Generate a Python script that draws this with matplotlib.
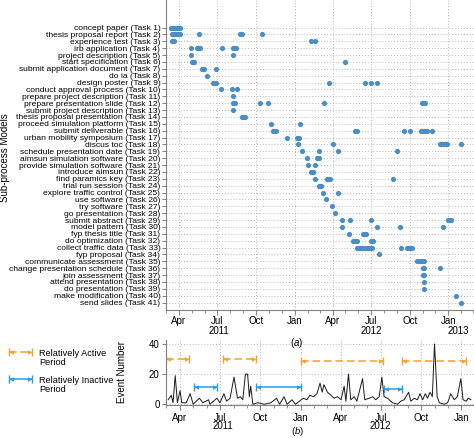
import numpy as np
import pandas as pd
import matplotlib
matplotlib.use('Agg')
import matplotlib.pyplot as plt
import matplotlib.dates as mdates
from matplotlib.path import Path

plt.rcParams['font.family'] = ['Liberation Sans', 'DejaVu Sans']
plt.rcParams['mathtext.fontset'] = 'custom'
plt.rcParams['mathtext.rm'] = 'Liberation Sans'
plt.rcParams['mathtext.it'] = 'Liberation Sans:italic'

# ---- data -------------------------------------------------------------
task_names = [
    'concept paper', 'thesis proposal report', 'experience test', 'irb application',
    'project description', 'start specification', 'submit application document', 'do ia',
    'design poster', 'conduct approval process', 'prepare project description',
    'prepare presentation slide', 'submit project description', 'thesis proposal presentation',
    'proceed simulation platform', 'submit deliverable', 'urban mobility symposium',
    'discus toc', 'schedule presentation date', 'aimsun simulation software',
    'provide simulation software', 'introduce aimsun', 'find paramics key', 'trial run session',
    'explore traffic control', 'use software', 'try software', 'go presentation',
    'submit abstract', 'model pattern', 'fyp thesis title', 'do optimization',
    'collect traffic data', 'fyp proposal', 'communicate assessment',
    'change presentation schedule', 'join assessment', 'attend presentation',
    'do presentation', 'make modification', 'send slides',
]

task_dates = [
    ['2011-03-14', '2011-03-18', '2011-03-22', '2011-03-26', '2011-03-30', '2011-04-03'],
    ['2011-03-15', '2011-03-19', '2011-03-23', '2011-03-27', '2011-03-31', '2011-04-03',
     '2011-05-18', '2011-08-24', '2011-08-27', '2011-08-30', '2011-10-16'],
    ['2011-03-15', '2011-03-18', '2011-03-21', '2012-02-08', '2012-02-19'],
    ['2011-04-29', '2011-05-14', '2011-05-17', '2011-05-20', '2011-07-13', '2011-08-08',
     '2011-08-11', '2011-08-14'],
    ['2011-04-29', '2011-08-07'],
    ['2011-05-01', '2011-05-04', '2011-05-07', '2012-05-01'],
    ['2011-05-25', '2011-05-28', '2011-05-31', '2011-06-27'],
    ['2011-06-06'],
    ['2011-06-21', '2011-06-24', '2011-06-27', '2012-03-22', '2012-06-17', '2012-07-01',
     '2012-07-14'],
    ['2011-07-11', '2011-08-04', '2011-08-16'],
    ['2011-08-07'],
    ['2011-08-07', '2011-08-10', '2011-08-13', '2011-10-10', '2011-10-29', '2012-03-11',
     '2012-10-30', '2012-11-02', '2012-11-06'],
    ['2011-08-07'],
    ['2011-08-28', '2011-08-31', '2011-09-04'],
    ['2011-11-07', '2012-01-14'],
    ['2011-11-10', '2011-11-14', '2011-11-17', '2012-05-23', '2012-05-26', '2012-05-29',
     '2012-09-17', '2012-10-01', '2012-10-29', '2012-11-01', '2012-11-04', '2012-11-07',
     '2012-11-10', '2012-11-22'],
    ['2011-12-15', '2012-01-06', '2012-01-09', '2012-01-12'],
    ['2012-01-10', '2012-04-01', '2012-12-11', '2012-12-14', '2012-12-17', '2012-12-20',
     '2012-12-23', '2012-12-26', '2012-12-29', '2013-02-01'],
    ['2012-01-19', '2012-02-29', '2012-04-13', '2012-08-31'],
    ['2012-01-31', '2012-02-23', '2012-02-26', '2012-02-28'],
    ['2012-02-03', '2012-02-18'],
    ['2012-02-10', '2012-02-13', '2012-02-15'],
    ['2012-02-19', '2012-03-18', '2012-03-21', '2012-03-25', '2012-08-23'],
    ['2012-02-29', '2012-03-02', '2012-03-05'],
    ['2012-03-08', '2012-04-14'],
    ['2012-03-16'],
    ['2012-03-29'],
    ['2012-04-06'],
    ['2012-04-22', '2012-05-11', '2012-07-02', '2013-01-01', '2013-01-04', '2013-01-07'],
    ['2012-04-22', '2012-07-15', '2012-09-07', '2012-12-19'],
    ['2012-05-09', '2012-06-13', '2012-06-16', '2012-06-20'],
    ['2012-05-19', '2012-05-24', '2012-05-29', '2012-07-01', '2012-07-05'],
    ['2012-05-29', '2012-06-03', '2012-06-08', '2012-06-13', '2012-06-18', '2012-06-23',
     '2012-06-28', '2012-07-03', '2012-09-11', '2012-09-25', '2012-09-29', '2012-10-03',
     '2012-10-07'],
    ['2012-07-21'],
    ['2012-10-19', '2012-10-23', '2012-10-27', '2012-10-31', '2012-11-03'],
    ['2012-11-02', '2012-11-05', '2012-12-11'],
    ['2012-11-01', '2012-11-04'],
    ['2012-11-03'],
    ['2012-11-04'],
    ['2013-01-19'],
    ['2013-01-30'],
]

event_dates = [
    '2011-03-05', '2011-03-12', '2011-03-16', '2011-03-21', '2011-03-26', '2011-04-01',
    '2011-04-05', '2011-04-15', '2011-04-24', '2011-05-01', '2011-05-15', '2011-05-23',
    '2011-06-05', '2011-06-08', '2011-06-24', '2011-07-01', '2011-07-10', '2011-07-16',
    '2011-07-24', '2011-08-02', '2011-08-10', '2011-08-16', '2011-08-22', '2011-08-28',
    '2011-09-02', '2011-09-06', '2011-09-09', '2011-09-14', '2011-09-25', '2011-10-10',
    '2011-10-25', '2011-11-07', '2011-11-14', '2011-11-24', '2011-12-01', '2011-12-12',
    '2011-12-20', '2012-01-07', '2012-01-15', '2012-01-22', '2012-01-30', '2012-02-07',
    '2012-02-14', '2012-02-19', '2012-02-23', '2012-03-02', '2012-03-10', '2012-03-17',
    '2012-03-25', '2012-04-02', '2012-04-09', '2012-04-13', '2012-04-19', '2012-04-24',
    '2012-05-02', '2012-05-08', '2012-05-21', '2012-05-26', '2012-06-05', '2012-06-13',
    '2012-06-20', '2012-06-28', '2012-07-04', '2012-07-09', '2012-07-17', '2012-07-28',
    '2012-08-09', '2012-08-16', '2012-08-24', '2012-09-03', '2012-09-08', '2012-09-16',
    '2012-09-23', '2012-09-29', '2012-10-05', '2012-10-11', '2012-10-16', '2012-10-22',
    '2012-10-27', '2012-11-01', '2012-11-07', '2012-11-12', '2012-11-23', '2012-12-01',
    '2012-12-08', '2012-12-16', '2012-12-23', '2012-12-31', '2013-01-05', '2013-01-12',
    '2013-01-17', '2013-01-23',
]
event_counts = [
    3, 6, 1, 19, 1, 9,
    1, 1, 7, 0, 4, 1,
    3, 0, 4, 1, 7, 2,
    4, 18, 4, 5, 3, 20,
    20, 5, 12, 0, 1, 0,
    1, 4, 0, 5, 0, 3,
    0, 4, 3, 6, 5, 7,
    14, 8, 13, 8, 6, 4,
    5, 3, 12, 2, 20, 3,
    5, 2, 17, 3, 4, 5,
    3, 5, 18, 5, 4, 1,
    0, 2, 3, 8, 2, 4,
    3, 7, 3, 7, 4, 8,
    5, 40, 5, 1, 0, 1,
    7, 3, 5, 17, 3, 2,
    4, 3,
]

period_kind = ['active', 'inactive', 'active', 'inactive', 'active', 'inactive', 'active']
period_start = ['2011-03-01', '2011-05-03', '2011-07-07', '2011-09-20', '2012-01-02',
                '2012-07-10', '2012-08-19']
period_end = ['2011-04-21', '2011-06-24', '2011-09-20', '2012-01-02', '2012-07-06',
              '2012-08-20', '2013-01-12']
period_level = [30, 11.5, 30, 11.5, 28.5, 10, 28.5]

# ---- style ------------------------------------------------------------
DOT_BLUE = '#4a8ec6'
ACTIVE = '#f5a12a'
INACTIVE = '#2a9de8'
SPINE = '#808080'
GRID = dict(color='#b8b8b8', linestyle=(0, (1, 2)), linewidth=0.7)

W, H = 474, 438
fig = plt.figure(figsize=(W / 100, H / 100), dpi=100)

left_tip = Path([(0, 0), (1, 0.5), (1, -0.5), (0, 0)])
right_tip = Path([(0, 0), (-1, 0.5), (-1, -0.5), (0, 0)])


def draw_period(ax, start, end, y, color, dashed):
    ls = (0, (5, 2.5)) if dashed else '-'
    ax.plot([start, end], [y, y], color=color, lw=1.1, linestyle=ls, solid_capstyle='butt')
    ax.plot([start, end], [y, y], linestyle='none', marker='|', markersize=5.5,
            markeredgewidth=1.0, color=color)
    ax.plot([start], [y], linestyle='none', marker=left_tip, markersize=6.5, color=color,
            markeredgewidth=0)
    ax.plot([end], [y], linestyle='none', marker=right_tip, markersize=6.5, color=color,
            markeredgewidth=0)


def style_time_axis(ax, pad):
    ax.xaxis.set_major_locator(mdates.MonthLocator(bymonth=[1, 4, 7, 10]))
    ax.xaxis.set_minor_locator(mdates.MonthLocator())
    ax.xaxis.set_major_formatter(mdates.DateFormatter('%b'))
    ax.tick_params(axis='x', which='major', length=3.5, width=0.7, color=SPINE, pad=pad,
                   labelsize=7)
    ax.tick_params(axis='x', which='minor', length=2, width=0.6, color=SPINE)
    for s in ['top', 'right']:
        ax.spines[s].set_visible(False)
    for s in ['left', 'bottom']:
        ax.spines[s].set_color(SPINE)
        ax.spines[s].set_linewidth(0.8)


# ---- (a) task scatter -------------------------------------------------
ax1 = fig.add_axes([166 / W, 1 - 309.5 / H, (W - 166) / W, 309.5 / H])
for i, dates in enumerate(task_dates):
    d = pd.to_datetime(dates)
    ax1.scatter(d, np.full(len(d), i + 1), s=14, color=DOT_BLUE, linewidths=0, zorder=3)

ax1.set_ylim(42, -3)
ax1.set_xlim(pd.Timestamp('2011-03-01'), pd.Timestamp('2013-03-03'))
ax1.set_yticks(np.arange(1, len(task_names) + 1))
ax1.set_yticklabels([f'{n} (Task {i + 1})' for i, n in enumerate(task_names)])
ax1.tick_params(axis='y', length=3, width=0.7, color=SPINE, pad=1, labelsize=6.1)
style_time_axis(ax1, 1.5)
ax1.grid(True, which='major', **GRID)
ax1.set_axisbelow(True)

for yr, day in [('2011', '2011-07-05'), ('2012', '2012-07-01'), ('2013', '2013-01-24')]:
    ax1.annotate(yr, xy=(pd.Timestamp(day), 0), xycoords=('data', 'axes fraction'),
                 xytext=(0, -15.5), textcoords='offset points', ha='center', va='center',
                 fontsize=7)

fig.text(5 / W, 1 - 158 / H, 'Sub-process Models', rotation=90, ha='center', va='center',
         fontsize=7)
fig.text(297 / W, 1 - 343 / H, r'($a$)', ha='center', va='center', fontsize=7)

# ---- (b) event series -------------------------------------------------
ax2 = fig.add_axes([166 / W, 1 - 405 / H, (W - 166) / W, 65.5 / H])
ax2.plot(pd.to_datetime(event_dates), event_counts, color='#1a1a1a', lw=0.7)
for kind, s, e, lvl in zip(period_kind, period_start, period_end, period_level):
    col = ACTIVE if kind == 'active' else INACTIVE
    draw_period(ax2, pd.Timestamp(s), pd.Timestamp(e), lvl, col, kind == 'active')

ax2.set_xlim(pd.Timestamp('2011-02-28'), pd.Timestamp('2013-01-30'))
ax2.set_ylim(-0.5, 43)
ax2.set_yticks([0, 20, 40])
ax2.tick_params(axis='y', length=3, width=0.7, color=SPINE, pad=1.5, labelsize=7)
style_time_axis(ax2, 2.0)
ax2.grid(True, which='major', **GRID)
ax2.set_axisbelow(True)
ax2.set_ylabel('Event Number', fontsize=7)
ax2.yaxis.set_label_coords(-(166 - 127) / (W - 166), 0.5)

for yr, day in [('2011', '2011-07-08'), ('2012', '2012-07-01')]:
    ax2.annotate(yr, xy=(pd.Timestamp(day), 0), xycoords=('data', 'axes fraction'),
                 xytext=(0, -15.2), textcoords='offset points', ha='center', va='center',
                 fontsize=7)

fig.text(298 / W, 1 - 431.5 / H, r'($b$)', ha='center', va='center', fontsize=6.8)

# ---- legend for periods ------------------------------------------------
lax = fig.add_axes([0, 1 - 400 / H, 120 / W, 60 / H])
lax.set_xlim(0, 120)
lax.set_ylim(60, 0)
lax.axis('off')
draw_period(lax, 9, 31.5, 11.7, ACTIVE, True)
draw_period(lax, 9, 31.5, 39, INACTIVE, False)
lax.text(39, 8.8, 'Relatively Active\nPeriod', fontsize=6.6, va='top', ha='left',
         linespacing=1.05)
lax.text(39, 36.1, 'Relatively Inactive\nPeriod', fontsize=6.6, va='top', ha='left',
         linespacing=1.05)

fig.savefig('out.png', dpi=100)
